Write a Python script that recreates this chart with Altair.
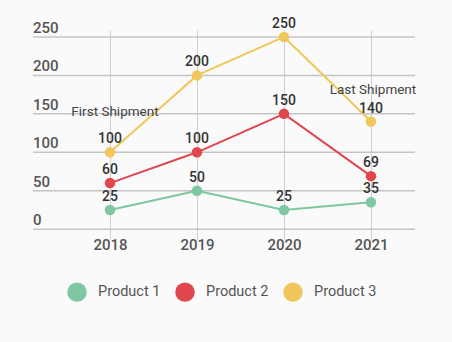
import altair as alt
import pandas as pd

years = [2018, 2019, 2020, 2021]
product1 = [25, 50, 25, 35]
product2 = [60, 100, 150, 69]
product3 = [100, 200, 250, 140]
series_names = ["Product 1", "Product 2", "Product 3"]
colors = ["#7fc6a2", "#e0474d", "#f1c75c"]
y_ticks = [0, 50, 100, 150, 200, 250]
notes = ["First Shipment", "Last Shipment"]
note_years = [2018, 2021]
note_values = [152, 181]

rows = []
for name, vals in zip(series_names, [product1, product2, product3]):
    for yr, v in zip(years, vals):
        rows.append({"year": yr, "value": v, "series": name})
df = pd.DataFrame(rows)
ticks_df = pd.DataFrame({"tick": y_ticks})
notes_df = pd.DataFrame({"note": notes, "year": note_years, "value": note_values})

FONT = "Roboto"
xscale = alt.Scale(domain=[2017.115, 2021.506], nice=False, zero=False)
yscale = alt.Scale(domain=[-14, 259], nice=False, zero=False)
color = alt.Color("series:N", scale=alt.Scale(domain=series_names, range=colors),
                  legend=alt.Legend(title=None, orient="none", direction="horizontal",
                                    legendX=34, legendY=252, symbolType="circle",
                                    symbolSize=380, symbolOpacity=1, symbolStrokeWidth=0,
                                    labelFont=FONT, labelFontSize=14.5, labelColor="#555555",
                                    labelOffset=11, columnPadding=14))

hgrid = alt.Chart(ticks_df).mark_rule(color="#c4c4c4", strokeWidth=1.5).encode(
    y=alt.Y("tick:Q", scale=yscale, axis=None))

ylabels = alt.Chart(ticks_df).mark_text(align="left", baseline="alphabetic", dy=-4,
                                        font=FONT, fontSize=15, fontWeight=500,
                                        color="#555555").encode(
    x=alt.value(0), y=alt.Y("tick:Q", scale=yscale, axis=None), text="tick:Q")

base = alt.Chart(df).encode(
    x=alt.X("year:Q", scale=xscale,
            axis=alt.Axis(values=years, format="d", title=None, domain=False, ticks=False,
                          grid=True, gridColor="#cfcfcf", gridWidth=1,
                          labelFont=FONT, labelFontSize=15, labelFontWeight=500,
                          labelColor="#555555", labelPadding=-3)),
    y=alt.Y("value:Q", scale=yscale, axis=None),
    color=color,
)

lines = base.mark_line(strokeWidth=2)
points = base.mark_circle(size=110, opacity=1)
labels = base.mark_text(dy=-13, font=FONT, fontSize=14, fontWeight=500, color="#333333").encode(
    text="value:Q", color=alt.value("#333333"))

annot_base = alt.Chart(notes_df).encode(
    x=alt.X("year:Q", scale=xscale), y=alt.Y("value:Q", scale=yscale), text="note:N")
annot1 = annot_base.mark_text(font=FONT, fontSize=13.5, color="#444444", dx=5).transform_filter(
    alt.datum.note == notes[0])
annot2 = annot_base.mark_text(font=FONT, fontSize=13.5, color="#444444", dx=2).transform_filter(
    alt.datum.note == notes[1])

chart = alt.layer(hgrid, ylabels, lines, points, labels, annot1, annot2).properties(
    width=382, height=210,
    padding={"left": 33, "top": 30, "right": 37, "bottom": 102},
    autosize="none",
    background="#fafafa",
).configure_view(stroke=None)

chart.save("out.html", embed_options={"renderer": "svg", "actions": False})
